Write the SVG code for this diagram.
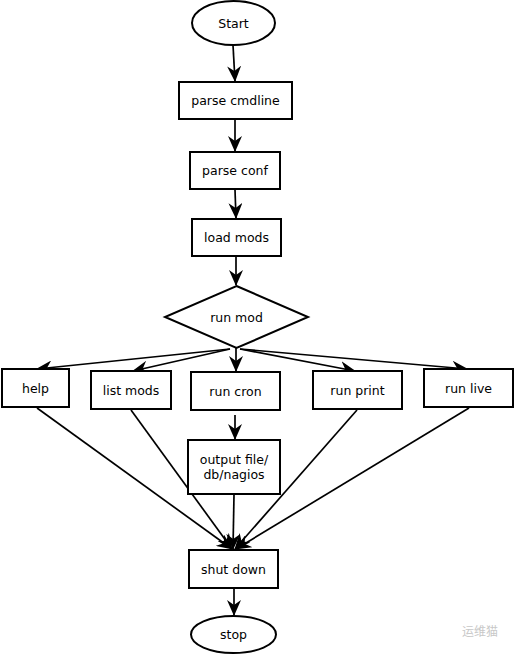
<svg xmlns="http://www.w3.org/2000/svg" width="514" height="654" viewBox="0 0 514 654">
<defs>
<marker id="ah" markerUnits="userSpaceOnUse" markerWidth="16" markerHeight="14" refX="15" refY="7" orient="auto">
<path d="M0,0 L16,7 L0,14 L5,7 z" fill="#000"/>
</marker>
<style>
.n{fill:#fff;stroke:#000;stroke-width:2}
.t{font-family:"DejaVu Sans",sans-serif;font-size:12.5px;fill:#000;text-anchor:middle;dominant-baseline:central}
.c line{stroke:#000;stroke-width:1.7;marker-end:url(#ah)}
</style>
</defs>
<rect width="514" height="654" fill="#fff"/>
<g class="c" id="connectors">
<line x1="233" y1="45" x2="235" y2="81"/>
<line x1="235" y1="120" x2="235" y2="151"/>
<line x1="235" y1="190" x2="236" y2="218"/>
<line x1="236" y1="257" x2="236" y2="285"/>
<line x1="230" y1="349" x2="37" y2="369"/>
<line x1="230" y1="349" x2="133" y2="371"/>
<line x1="236" y1="348" x2="236" y2="371"/>
<line x1="240" y1="349" x2="355" y2="371"/>
<line x1="240" y1="349" x2="467" y2="369"/>
<line x1="235" y1="415" x2="235" y2="439"/>
<line x1="37" y1="408" x2="232" y2="549"/>
<line x1="131" y1="410" x2="232" y2="549"/>
<line x1="234" y1="495" x2="233" y2="549"/>
<line x1="357" y1="410" x2="235" y2="549"/>
<line x1="469" y1="408" x2="236" y2="549"/>
<line x1="234" y1="589" x2="234" y2="615"/>
</g>
<g id="start"><ellipse class="n" cx="233.5" cy="23" rx="41.5" ry="22"/><text class="t" x="233.5" y="23">Start</text></g>
<g id="parse-cmdline"><rect class="n" x="179" y="82" width="113" height="37"/><text class="t" x="235.5" y="100.5">parse cmdline</text></g>
<g id="parse-conf"><rect class="n" x="190" y="152" width="90" height="37"/><text class="t" x="235" y="170.5">parse conf</text></g>
<g id="load-mods"><rect class="n" x="192" y="219" width="89" height="37"/><text class="t" x="236.5" y="237.5">load mods</text></g>
<g id="run-mod"><polygon class="n" points="236.5,286 308,317 236.5,348 165,317"/><text class="t" x="236.5" y="317">run mod</text></g>
<g id="help"><rect class="n" x="2" y="369" width="67" height="38"/><text class="t" x="35.5" y="388">help</text></g>
<g id="list-mods"><rect class="n" x="91" y="371" width="80" height="38"/><text class="t" x="131" y="390">list mods</text></g>
<g id="run-cron"><rect class="n" x="191" y="372" width="89" height="38"/><text class="t" x="235.5" y="391">run cron</text></g>
<g id="run-print"><rect class="n" x="313" y="371" width="89" height="38"/><text class="t" x="357.5" y="390">run print</text></g>
<g id="run-live"><rect class="n" x="424" y="369" width="89" height="38"/><text class="t" x="468.5" y="388">run live</text></g>
<g id="output"><rect class="n" x="188" y="440" width="92" height="54"/><text class="t" x="234" y="459">output file/</text><text class="t" x="234" y="474">db/nagios</text></g>
<g id="shut-down"><rect class="n" x="189" y="550" width="89" height="38"/><text class="t" x="233.5" y="569">shut down</text></g>
<g id="stop"><ellipse class="n" cx="233.5" cy="634.5" rx="42.5" ry="18.5"/><text class="t" x="233.5" y="634.5">stop</text></g>
<text x="462" y="636" style="font-family:'Noto Sans CJK SC',sans-serif;font-size:12px;fill:#c8c8c8">运维猫</text>
</svg>
